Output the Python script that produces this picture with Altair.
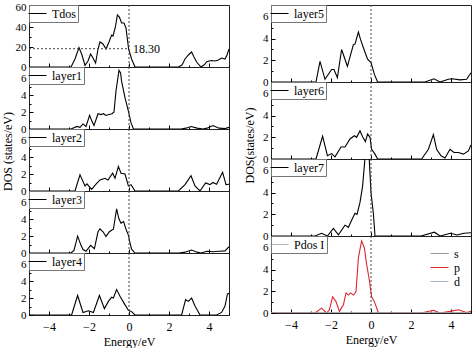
import altair as alt
import pandas as pd

FONT = "Liberation Serif"

X_DOMAIN = [-5, 5]
X_MAJOR = [-4, -2, 0, 2, 4]
X_MINOR = [-5, -3, -1, 1, 3, 5]

# ---------------- data ----------------
tdos_x = [-5.0, -2.9, -2.7, -2.5, -2.35, -2.2, -2.05, -1.92, -1.8, -1.67, -1.55, -1.45, -1.3, -1.15,
          -1.0, -0.87, -0.8, -0.68, -0.58, -0.48, -0.37, -0.25, -0.15, -0.02, 0.13, 0.3,
          2.47, 2.65, 2.8, 2.97, 3.13, 3.25, 3.38, 3.6, 3.75, 3.88, 4.0, 4.13, 4.3, 4.47, 4.63, 4.8, 4.9, 5.0]
tdos_y = [0, 0, 8, 19.5, 12, 1.6, 6, 13, 9, 4, 18, 25, 23, 18,
          25, 32, 31, 40, 52, 50, 44, 44, 39, 18, 8, 0,
          0, 2, 8, 12, 15, 10, 5, 0, 2, 5, 6, 6.5, 6, 7, 9, 8, 12, 18]

l1_x = [-5.0, -2.9, -2.6, -2.45, -2.3, -2.15, -1.97, -1.85, -1.75, -1.55, -1.4, -1.28, -1.15, -1.0,
        -0.85, -0.75, -0.65, -0.5, -0.42, -0.37, -0.2, -0.03, 0.1, 0.22,
        2.6, 2.85, 3.1, 3.4, 3.7, 3.9, 4.2, 4.5, 4.8, 5.0]
l1_y = [0, 0, 0.3, 0.2, 0.6, 0.3, 1.6, 0.9, 0.4, 1.8, 1.7, 1.8, 1.6, 1.7,
        1.8, 2.0, 4.5, 6.9, 6.6, 5.6, 3.7, 2.1, 0.75, 0,
        0, 0.1, 0.3, 0.1, 0, 0.1, 0.4, 0.1, 0.05, 0.2]

l2_x = [-5.0, -2.7, -2.45, -2.2, -2.1, -1.87, -1.65, -1.45, -1.2, -1.05, -0.82, -0.7, -0.53, -0.4,
        -0.2, -0.03, 0.1, 0.3, 2.47, 2.8, 3.1, 3.3, 3.55, 3.83, 4.05, 4.2, 4.38, 4.68, 4.85, 5.0]
l2_y = [0, 0, 1.9, 0.6, 0.85, 0.2, 0.8, 1.3, 1.5, 1.3, 2.1, 1.5, 2.9, 2.1,
        2.0, 0.6, 0.75, 0, 0, 0.75, 1.8, 0.6, 0, 0.95, 0.75, 1.0, 0.8, 2.2, 0.75, 0.8]

l3_x = [-5.0, -2.9, -2.75, -2.57, -2.4, -2.3, -2.15, -1.92, -1.73, -1.55, -1.45, -1.3, -1.15, -0.98,
        -0.85, -0.78, -0.62, -0.5, -0.4, -0.27, -0.15, -0.03, 0.05, 0.13, 0.3,
        2.5, 2.8, 3.13, 3.4, 3.6, 3.9, 4.2, 4.5, 4.8, 5.0]
l3_y = [0, 0, 0.3, 2.0, 0.9, 0.4, 0.2, 0.9, 0.5, 2.5, 2.85, 2.5, 1.95, 2.5,
        2.7, 2.8, 5.2, 4.0, 3.5, 3.7, 2.8, 2.1, 1.2, 0.45, 0,
        0, 0.1, 0.35, 0.1, 0, 0.2, 0.15, 0.2, 0.25, 0.75]

l4_x = [-5.0, -2.87, -2.57, -2.3, -2.03, -1.78, -1.48, -1.23, -1.03, -0.87, -0.78, -0.62, -0.45, -0.25,
        -0.03, 0.13, 0.3, 2.63, 2.83, 2.97, 3.13, 3.3, 3.55, 4.38, 4.63, 4.8, 4.92, 5.0]
l4_y = [0, 0, 2.3, 0.3, 0.5, 0.3, 2.3, 0.75, 1.6, 2.1, 2.0, 3.0, 2.2, 1.4,
        0.55, 0.4, 0, 0, 1.8, 1.6, 2.0, 1.05, 0, 0, 0.3, 1.05, 2.45, 2.55]

l5_x = [-5.0, -2.75, -2.55, -2.3, -1.97, -1.85, -1.68, -1.47, -1.18, -0.88, -0.8, -0.63, -0.52, -0.35,
        -0.17, 0.0, 0.17, 0.33, 2.7, 3.15, 3.45, 3.87, 4.05, 4.45, 4.78, 5.0]
l5_y = [0, 0, 1.9, 0.25, 1.15, 1.15, 0.4, 3.0, 1.45, 3.45, 3.5, 4.6, 3.9, 3.0,
        2.1, 1.8, 0.7, 0, 0, 0.3, 0, 0.25, 0.3, 0.2, 0.25, 0.85]

l6_x = [-5.0, -2.75, -2.42, -2.18, -1.97, -1.8, -1.5, -1.3, -1.05, -0.83, -0.72, -0.55, -0.42, -0.28,
        -0.17, -0.05, 0.03, 0.2, 0.33, 2.53, 2.87, 3.12, 3.28, 3.5, 3.7, 3.95, 4.15, 4.37, 4.62, 4.87, 5.0]
l6_y = [0, 0, 2.1, 0.3, 0.5, 0.2, 1.1, 1.1, 1.85, 2.15, 2.0, 2.6, 2.05, 1.6,
        2.3, 2.0, 0.9, 0.45, 0, 0, 0.9, 2.25, 0.9, 0.3, 0.1, 0.9, 0.6, 0.6, 0.45, 0.75, 1.3]

l7_x = [-5.0, -2.8, -2.47, -2.18, -1.88, -1.63, -1.3, -1.13, -0.97, -0.8, -0.7, -0.55, -0.42, -0.3,
        -0.2, -0.1, 0.0, 0.12, 0.2, 2.5, 3.17, 3.45, 3.98, 4.3, 4.65, 5.0]
l7_y = [0, 0, 0.25, 0, 0.7, 0.1, 1.0, 0.8, 1.45, 2.1, 2.0, 3.1, 4.6, 7.2,
        8.0, 7.5, 4.0, 2.05, 0, 0, 0.35, 0, 0.25, 0.1, 0.25, 0.3]

pdos_x = [-5.0, -2.8, -2.47, -2.22, -2.08, -1.92, -1.75, -1.58, -1.38, -1.25, -1.13, -1.02, -0.88, -0.75,
          -0.63, -0.47, -0.33, -0.22, -0.08, 0.03, 0.17, 0.37, 2.5, 3.12, 3.45, 3.95, 4.37, 4.78, 5.0]
pdos_p = [0, 0, 0.45, 0, 0.3, 1.5, 1.05, 0.15, 0.75, 1.85, 1.65, 1.85, 1.65, 1.95,
          5.1, 6.65, 6.0, 4.5, 3.0, 1.5, 1.05, 0, 0, 0.25, 0, 0.15, 0.3, 0.05, 0.15]
pdos_s = [0.0] * len(pdos_x)
pdos_d = [0.0] * len(pdos_x)

PDOS_NAMES = ["s", "p", "d"]
PDOS_COLORS = ["#9a9a9a", "#e0262c", "#aab4c6"]

FERMI = [0]
TDOS_MARK_Y = 18.30
TDOS_MARK_TEXT = "18.30"

LEFT_W, LEFT_H = 200, 62
RIGHT_W, RIGHT_H = 200, 77

TDOS_DOMAIN = [0, 62]
TDOS_MAJOR = [0, 20, 40, 60]
TDOS_MINOR = [10, 30, 50]
LAYER_MAJOR = [0, 2, 4, 6]
LAYER_MINOR = [1, 3, 5]


def box_legend(**kw):
    return alt.Legend(orient="top-left", title=None, strokeColor="#777777", fillColor="white",
                      padding=2, offset=0, symbolType="M-1.5,0H1.5", symbolSize=144,
                      symbolStrokeWidth=1, labelOffset=8, labelFont=FONT, labelFontSize=12,
                      labelColor="black", **kw)


def tick_layer(df, xsc, ysc, xvals, yvals, size):
    return alt.Chart(df).mark_line(opacity=0).encode(
        x=alt.X("E:Q", scale=xsc, axis=alt.Axis(orient="bottom", values=xvals, labels=False, domain=False,
                                                grid=False, ticks=True, tickSize=size, offset=-size,
                                                title=None, minExtent=0, maxExtent=size)),
        y=alt.Y("DOS:Q", scale=ysc, axis=alt.Axis(orient="left", values=yvals, labels=False, domain=False,
                                                  grid=False, ticks=True, tickSize=size, offset=-size,
                                                  title=None, minExtent=0, maxExtent=size)),
    )


def panel(df, w, h, ydom, ymaj, ymin, main_mark, color_enc, bottom=False, ytitle=None, title_y=None,
          extra=()):
    xsc = alt.Scale(domain=X_DOMAIN, nice=False, zero=False)
    ysc = alt.Scale(domain=ydom, nice=False, zero=False)
    if bottom:
        xaxis = alt.Axis(orient="bottom", values=X_MAJOR, ticks=False, domain=False, grid=False,
                         labelPadding=6, title="Energy/eV", titlePadding=4, labelFlush=False,
                         labelFontSize=12)
    else:
        xaxis = None
    yargs = dict(orient="left", values=ymaj, ticks=False, domain=False, grid=False, labelPadding=3,
                 labelFlush=False, minExtent=10, labelFontSize=11)
    if ytitle:
        yargs.update(title=ytitle, titlePadding=5)
        if title_y is not None:
            yargs.update(titleY=title_y)
    else:
        yargs.update(title=None)
    main = main_mark.encode(
        x=alt.X("E:Q", scale=xsc, axis=xaxis),
        y=alt.Y("DOS:Q", scale=ysc, axis=alt.Axis(**yargs)),
        color=color_enc,
    )
    zero_line = alt.Chart(pd.DataFrame({"E": FERMI})).mark_rule(
        color="#444444", strokeDash=[2, 2], strokeWidth=1).encode(
        x=alt.X("E:Q", scale=xsc, axis=None))
    layers = [main, zero_line, tick_layer(df, xsc, ysc, X_MAJOR, ymaj, 4),
              tick_layer(df, xsc, ysc, X_MINOR, ymin, 2)]
    layers += [e(xsc, ysc) for e in extra]
    return alt.layer(*layers).resolve_axis(x="independent", y="independent").properties(
        width=w, height=h)


def single(name, xs, ys, w, h, ydom, ymaj, ymin, **kw):
    df = pd.DataFrame({"E": xs, "DOS": ys, "series": [name] * len(xs)})
    mark = alt.Chart(df).mark_line(strokeWidth=1.1, clip=True)
    color = alt.Color("series:N", scale=alt.Scale(domain=[name], range=["black"]), legend=box_legend())
    return panel(df, w, h, ydom, ymaj, ymin, mark, color, **kw)


def tdos_extra(xsc, ysc):
    d = pd.DataFrame({"x0": [X_DOMAIN[0]], "x1": [0], "y": [TDOS_MARK_Y]})
    hr = alt.Chart(d).mark_rule(color="#444444", strokeDash=[2, 2], strokeWidth=1).encode(
        x=alt.X("x0:Q", scale=xsc, axis=None), x2="x1:Q", y=alt.Y("y:Q", scale=ysc, axis=None))
    t = pd.DataFrame({"x": [0.2], "y": [TDOS_MARK_Y], "t": [TDOS_MARK_TEXT]})
    tx = alt.Chart(t).mark_text(align="left", baseline="middle", font=FONT, fontSize=12, color="black").encode(
        x=alt.X("x:Q", scale=xsc, axis=None), y=alt.Y("y:Q", scale=ysc, axis=None), text="t:N")
    return alt.layer(hr, tx)


L_DOM = [0, 7.3]
R_DOM = [0, 7.1]

left = alt.vconcat(
    single("Tdos", tdos_x, tdos_y, LEFT_W, LEFT_H, TDOS_DOMAIN, TDOS_MAJOR, TDOS_MINOR,
           extra=(lambda a, b: tdos_extra(a, b),)),
    single("layer1", l1_x, l1_y, LEFT_W, LEFT_H, L_DOM, LAYER_MAJOR, LAYER_MINOR),
    single("layer2", l2_x, l2_y, LEFT_W, LEFT_H, L_DOM, LAYER_MAJOR, LAYER_MINOR,
           ytitle="DOS (states/eV)", title_y=22),
    single("layer3", l3_x, l3_y, LEFT_W, LEFT_H, L_DOM, LAYER_MAJOR, LAYER_MINOR),
    single("layer4", l4_x, l4_y, LEFT_W, LEFT_H, L_DOM, LAYER_MAJOR, LAYER_MINOR, bottom=True),
    spacing=0, bounds="flush",
).resolve_scale(color="independent", x="independent", y="independent")

# Pdos panel
pdf = pd.DataFrame({
    "E": pdos_x * 3,
    "DOS": pdos_s + pdos_p + pdos_d,
    "series": ["s"] * len(pdos_x) + ["p"] * len(pdos_x) + ["d"] * len(pdos_x),
    "order": [0] * len(pdos_x) + [2] * len(pdos_x) + [1] * len(pdos_x),
})
pmark = alt.Chart(pdf).mark_line(strokeWidth=1.1, clip=True)
pcolor = alt.Color("series:N", scale=alt.Scale(domain=PDOS_NAMES, range=PDOS_COLORS),
                   legend=alt.Legend(orient="top-right", title=None, offset=11, symbolType="M-1.5,0H1.5",
                                     symbolSize=144, symbolStrokeWidth=1, labelOffset=8, rowPadding=1,
                                     labelFont=FONT, labelFontSize=12, labelColor="black"))


def pdos_label(xsc, ysc):
    d = pd.DataFrame({"E": pdos_x, "DOS": pdos_s, "name": ["Pdos I"] * len(pdos_x)})
    return alt.Chart(d).mark_line(color="#9a9a9a", strokeWidth=1, clip=True).encode(
        x=alt.X("E:Q", scale=xsc, axis=None), y=alt.Y("DOS:Q", scale=ysc, axis=None),
        strokeDash=alt.StrokeDash("name:N", scale=alt.Scale(domain=["Pdos I"], range=[[1, 0]]),
                                  legend=box_legend()))


pdos_panel = panel(pdf, RIGHT_W, RIGHT_H, R_DOM, LAYER_MAJOR, LAYER_MINOR,
                   pmark.encode(detail="order:O", order="order:O"), pcolor, bottom=True,
                   extra=(pdos_label,))

right = alt.vconcat(
    single("layer5", l5_x, l5_y, RIGHT_W, RIGHT_H, R_DOM, LAYER_MAJOR, LAYER_MINOR),
    single("layer6", l6_x, l6_y, RIGHT_W, RIGHT_H, R_DOM, LAYER_MAJOR, LAYER_MINOR,
           ytitle="DOS(states/eV)", title_y=63),
    single("layer7", l7_x, l7_y, RIGHT_W, RIGHT_H, R_DOM, LAYER_MAJOR, LAYER_MINOR),
    pdos_panel,
    spacing=0, bounds="flush",
).resolve_scale(color="independent", strokeDash="independent", x="independent", y="independent")

chart = alt.hconcat(left, right, spacing=12).resolve_scale(
    color="independent", strokeDash="independent", x="independent", y="independent"
).properties(
    padding={"left": 0, "top": 0, "right": 2, "bottom": 2}
).configure_view(stroke="#222222", strokeWidth=1).configure_axis(
    labelFont=FONT, titleFont=FONT, labelFontSize=12, titleFontSize=12, labelColor="black",
    titleColor="black", tickColor="black", titleFontWeight="normal"
).configure_legend(labelFont=FONT)

chart.save("out.html", embed_options={"renderer": "svg", "actions": False})
